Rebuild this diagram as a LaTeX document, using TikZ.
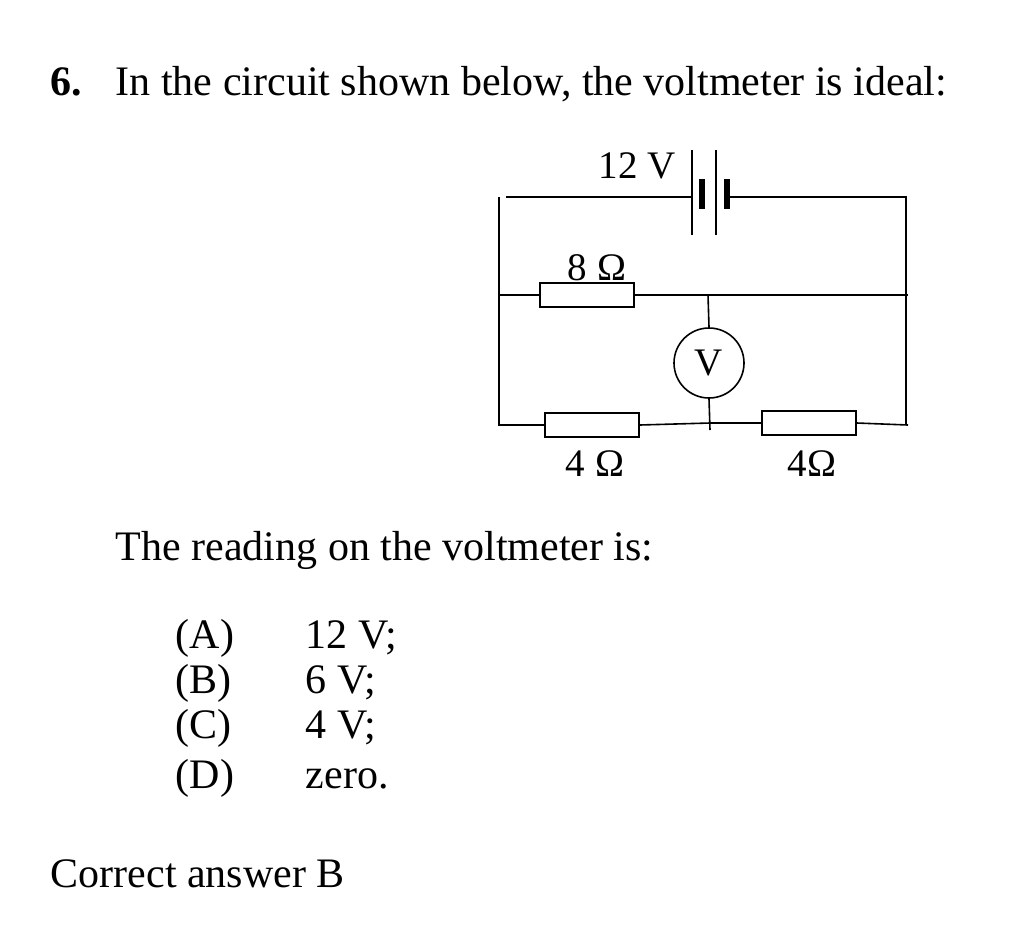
\documentclass[tikz,border=0pt]{standalone}
\usepackage{fontspec}
\setmainfont{Liberation Serif}
\begin{document}
\begin{tikzpicture}[x=1pt,y=-1pt,line width=1.6pt,
  txt/.style={font=\fontsize{42}{46}\selectfont,anchor=base west,inner sep=0},
  lbl/.style={font=\fontsize{39}{42}\selectfont,anchor=base,inner sep=0},
  res/.style={draw,line width=1.6pt,minimum width=94pt,minimum height=24pt,inner sep=0}]
\useasboundingbox (0,0) rectangle (1024,946);
\node[txt] (n6) at (50,95) {\textbf{6.}};
\node[txt] (q) at (115,95) {In the circuit shown below, the voltmeter is ideal:};
% circuit
\coordinate (tl) at (499,197); \coordinate (tr) at (906,197);
\coordinate (ml) at (499,295); \coordinate (mr) at (908,295);
\coordinate (bl) at (499,425); \coordinate (br) at (908,425);
\coordinate (bA) at (692,197); \coordinate (bB) at (727,197);
\node[res] (r8) at (587,295) {};
\node[res] (r4a) at (592,425) {};
\node[res] (r4b) at (809,423) {};
\node[draw,circle,minimum size=70pt,inner sep=0,line width=1.6pt,font=\fontsize{39}{42}\selectfont] (vm) at (709,363) {V};
\coordinate (jt) at (708,295);
\coordinate (jb) at (710,423);
\draw (tl) -- (bl) -- (r4a.west);
\draw (506,197) -- (bA);
\draw (bB) -- (tr) -- (906,425);
\draw (ml) -- (r8.west); \draw (r8.east) -- (mr);
\draw (jt) -- (vm.north); \draw (vm.south) -- (710,430);
\draw (r4a.east) -- (jb) -- (r4b.west);
\draw (r4b.east) -- (br);
\draw (692,150) -- (692,235);
\draw (716,150) -- (716,235);
\draw[line width=6pt] (702,179) -- (702,209);
\draw[line width=6pt] (727,179) -- (727,209);
\node[lbl] (l12) at (637,178) {12 V};
\node[lbl] (l8) at (597,280) {8 Ω};
\node[lbl] (l4a) at (595,476) {4 Ω};
\node[lbl] (l4b) at (812,476) {4Ω};
\node[txt] (rd) at (115,560) {The reading on the voltmeter is:};
\node[txt] (oa) at (175,648) {(A)}; \node[txt] (va) at (305,648) {12 V;};
\node[txt] (ob) at (175,693) {(B)}; \node[txt] (vb) at (305,693) {6 V;};
\node[txt] (oc) at (175,738) {(C)}; \node[txt] (vc) at (305,738) {4 V;};
\node[txt] (od) at (175,788) {(D)}; \node[txt] (vd) at (305,788) {zero.};
\node[txt] (ca) at (50,887) {Correct answer B};
\end{tikzpicture}
\end{document}
